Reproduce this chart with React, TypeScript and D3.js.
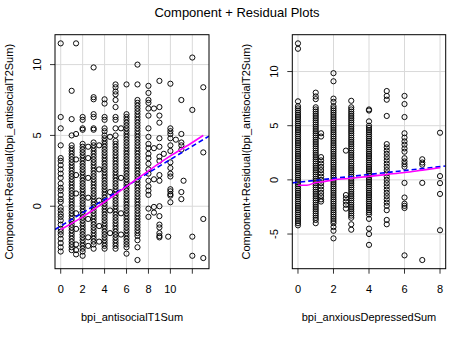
import React from "react";
import * as d3 from "d3";

// ---------- data ----------
const antiX = [0, 1, 1.4, 2, 2.5, 3, 3.5, 4, 4.5, 5, 5.5, 6, 7, 8, 8.5, 9, 9.4, 9.8, 10, 10.5, 11, 11.2, 12, 13];
const antiResid: number[][] = [
  [11.5, 6.3, 5.5, 4.3, 3.4, 3.2, 2.9, 2.6, 2.3, 2.0, 1.6, 1.3, 1.1, 0.8, 0.5, 0.3, -0.1, -0.3, -0.55, -0.75, -1.0, -1.3, -1.6, -1.8, -2.0, -2.3, -2.6, -2.9, -3.2],
  [8.15, 6.15, 5.0, 4.3, 4.1, 3.9, 3.7, 3.5, 3.3, 3.1, 2.9, 2.7, 2.5, 2.3, 2.1, 1.9, 1.7, 1.5, 1.3, 1.1, 0.9, 0.7, 0.5, 0.3, 0.1, -0.1, -0.3, -0.5, -0.7, -0.9, -1.1, -1.3, -1.5, -1.7, -1.9, -2.1, -2.3, -2.5, -2.7, -2.9, -3.1],
  [11.5, 5.1, 3.3, 2.2, 0.9, -0.5, -1.6, -2.7, -3.1, -3.4],
  [6.3, 6.1, 5.5, 5.4, 4.4, 4.2, 4.0, 3.8, 3.6, 3.4, 3.2, 3.0, 2.8, 2.6, 2.4, 2.2, 2.0, 1.8, 1.6, 1.4, 1.2, 1.0, 0.8, 0.6, 0.4, 0.2, 0.0, -0.2, -0.4, -0.6, -0.8, -1.0, -1.2, -1.4, -1.6, -1.8, -2.0, -2.2, -2.4, -2.6, -2.8, -3.0, -3.2, -3.5],
  [4.2, 3.4, 2.0, 0.6, -0.9, -2.2, -2.8],
  [9.8, 7.7, 7.55, 6.5, 6.3, 5.5, 5.4, 4.5, 4.3, 4.1, 3.9, 3.7, 3.5, 3.3, 3.1, 2.9, 2.7, 2.5, 2.3, 2.1, 1.9, 1.7, 1.5, 1.3, 1.1, 0.9, 0.7, 0.5, 0.3, 0.1, -0.1, -0.3, -0.5, -0.7, -0.9, -1.1, -1.3, -1.5, -1.7, -1.9, -2.1, -2.3, -2.5, -2.7, -3.0],
  [4.3, 2.6, 0.4, -1.4, -2.5],
  [7.55, 7.25, 6.3, 6.1, 5.5, 5.3, 5.0, 4.8, 4.6, 4.4, 4.2, 4.0, 3.8, 3.6, 3.4, 3.2, 3.0, 2.8, 2.6, 2.4, 2.2, 2.0, 1.8, 1.6, 1.4, 1.2, 1.0, 0.8, 0.6, 0.4, 0.2, 0.0, -0.2, -0.4, -0.6, -0.8, -1.0, -1.2, -1.4, -1.6, -1.8, -2.0, -2.2, -2.4, -2.6, -2.8, -3.0],
  [4.9, 1.0, -0.3, -1.9],
  [8.6, 8.4, 8.1, 7.9, 7.5, 7.0, 6.3, 6.1, 5.5, 5.0, 4.6, 4.4, 4.2, 4.0, 3.8, 3.6, 3.4, 3.2, 3.0, 2.8, 2.6, 2.4, 2.2, 2.0, 1.8, 1.6, 1.4, 1.2, 1.0, 0.8, 0.6, 0.4, 0.2, 0.0, -0.2, -0.4, -0.6, -0.8, -1.0, -1.2, -1.4, -1.6, -1.8, -2.0, -2.2, -2.4, -2.6, -2.8, -3.0],
  [5.5, 2.0, -0.5, -2.0],
  [8.6, 6.5, 6.3, 6.1, 5.9, 5.7, 5.5, 5.3, 5.1, 4.9, 4.7, 4.5, 4.3, 4.1, 3.9, 3.7, 3.5, 3.3, 3.1, 2.9, 2.7, 2.5, 2.3, 2.1, 1.9, 1.7, 1.5, 1.3, 1.1, 0.9, 0.7, 0.5, 0.3, 0.1, -0.1, -0.3, -0.5, -0.7, -0.9, -1.1, -1.3, -1.5, -1.7, -1.9, -2.1, -2.3, -2.5, -2.7, -2.9, -3.35],
  [10.0, 8.6, 7.5, 7.3, 7.1, 6.9, 6.7, 6.5, 6.3, 6.1, 5.9, 5.7, 5.5, 5.3, 5.1, 4.9, 4.7, 4.5, 4.3, 4.1, 3.9, 3.7, 3.5, 3.3, 3.1, 2.9, 2.7, 2.5, 2.3, 2.1, 1.9, 1.7, 1.5, 1.3, 1.1, 0.9, 0.7, 0.5, 0.3, 0.1, -0.1, -0.3, -0.5, -0.7, -0.9, -1.1, -1.3, -1.5, -1.7, -1.9, -2.1, -2.4, -2.9, -3.8],
  [8.5, 8.0, 7.5, 7.3, 6.9, 6.4, 5.5, 4.9, 4.4, 4.1, 3.7, 3.4, 3.0, 2.6, 2.3, 1.8, 1.4, 1.1, 0.8, -0.17, -0.75],
  [6.9, 4.1, 1.9, -0.05, -0.45],
  [8.85, 7.0, 6.4, 5.9, 4.8, 4.2, 3.5, 3.2, 2.2, 1.8, 0.0, -0.7, -1.3, -1.5, -1.9, -2.1, -2.2],
  [3.7],
  [-2.15],
  [8.65, 5.5, 5.3, 5.1, 4.8, 4.3, 3.9, 3.1, 2.7, 2.3, 2.1, 1.2, 1.05, 0.85, 0.75, 0.28],
  [4.7],
  [7.5, 5.1, 4.5, 4.3, 4.0, 1.0, 0.5],
  [1.8],
  [10.5, 6.8, -2.15, -3.5],
  [8.4, 3.8, -0.9, -3.66],
];
const antiFit = { intercept: -1.4, slope: 0.47 };
const antiSmoothX = [0, 2, 4, 6, 8, 10, 12, 13];
const antiSmoothY = [-1.65, -0.75, 0.3, 1.4, 2.5, 3.55, 4.5, 5.0];
const antiXTicks = [0, 2, 4, 6, 8, 10, 12];
const antiXLabels = ["0", "2", "4", "6", "8", "10", ""];
const antiYTicks = [0, 5, 10];

const anxX = [0, 1, 1.3, 2, 2.7, 3, 4, 5, 6, 7, 8];
const anxResid: number[][] = [
  [12.6, 12.1, 7.25, 6.8, 6.6, 6.4, 6.2, 6.0, 5.8, 5.6, 5.4, 5.2, 5.0, 4.8, 4.6, 4.4, 4.2, 4.0, 3.8, 3.6, 3.4, 3.2, 3.0, 2.8, 2.6, 2.4, 2.2, 2.0, 1.8, 1.6, 1.4, 1.2, 1.0, 0.8, 0.6, 0.4, 0.2, 0.0, -0.2, -0.4, -0.6, -0.8, -1.0, -1.2, -1.4, -1.6, -1.8, -2.0, -2.2, -2.4, -2.6, -2.8, -3.0, -3.2, -3.4, -3.6, -3.8, -4.0, -4.2],
  [8.05, 7.7, 7.45, 6.7, 6.5, 6.3, 6.1, 5.9, 5.7, 5.5, 5.3, 5.1, 4.9, 4.7, 4.5, 4.3, 4.1, 3.9, 3.7, 3.5, 3.3, 3.1, 2.9, 2.7, 2.5, 2.3, 2.1, 1.9, 1.7, 1.5, 1.3, 1.1, 0.9, 0.7, 0.5, 0.3, 0.1, -0.1, -0.3, -0.5, -0.7, -0.9, -1.1, -1.3, -1.5, -1.7, -1.9, -2.1, -2.3, -2.5, -2.7, -2.9, -3.1, -3.3, -3.5, -3.7, -4.0],
  [4.3, 4.0, 2.1, 1.8, 1.5, 1.2, 0.9, 0.6, 0.3, 0.0, -0.3, -0.6, -0.9, -1.2, -1.5, -1.8, -2.0],
  [9.85, 9.1, 7.5, 7.2, 6.8, 6.6, 6.4, 6.2, 6.0, 5.8, 5.6, 5.4, 5.2, 5.0, 4.8, 4.6, 4.4, 4.2, 4.0, 3.8, 3.6, 3.4, 3.2, 3.0, 2.8, 2.6, 2.4, 2.2, 2.0, 1.8, 1.6, 1.4, 1.2, 1.0, 0.8, 0.6, 0.4, 0.2, 0.0, -0.2, -0.4, -0.6, -0.8, -1.0, -1.2, -1.4, -1.6, -1.8, -2.0, -2.2, -2.4, -2.6, -2.8, -3.0, -3.2, -3.4, -3.6, -3.8, -4.0, -4.35, -4.7, -5.4],
  [2.7, -1.4, -1.7, -2.0, -2.3, -2.65],
  [7.3, 6.7, 6.5, 6.3, 6.1, 5.9, 5.7, 5.5, 5.3, 5.1, 4.9, 4.7, 4.5, 4.3, 4.1, 3.9, 3.7, 3.5, 3.3, 3.1, 2.9, 2.7, 2.5, 2.3, 2.1, 1.9, 1.7, 1.5, 1.3, 1.1, 0.9, 0.7, 0.5, 0.3, 0.1, -0.1, -0.3, -0.5, -0.7, -0.9, -1.1, -1.3, -1.5, -1.7, -1.9, -2.1, -2.3, -2.5, -2.7, -2.9, -3.1, -3.3, -3.5, -4.1, -4.6],
  [6.5, 6.4, 5.4, 5.0, 4.8, 4.6, 4.4, 4.2, 4.0, 3.8, 3.6, 3.4, 3.2, 3.0, 2.8, 2.6, 2.4, 2.2, 2.0, 1.8, 1.6, 1.4, 1.2, 1.0, 0.8, 0.6, 0.4, 0.2, 0.0, -0.2, -0.4, -0.6, -0.8, -1.0, -1.2, -1.4, -1.6, -1.8, -2.0, -2.2, -2.4, -2.6, -2.8, -3.0, -3.2, -3.6, -4.5, -5.0, -6.0],
  [8.2, 7.75, 7.4, 5.9, 3.3, 3.0, 2.7, 2.4, 2.1, 1.8, 1.5, 1.2, 0.9, 0.6, 0.3, 0.0, -0.3, -0.6, -0.9, -1.2, -1.5, -1.8, -2.1, -2.4, -2.8, -3.7, -4.1],
  [7.75, 7.0, 5.8, 4.3, 3.9, 3.55, 3.25, 2.9, 2.6, 2.0, 1.7, 1.45, 1.2, -0.28, -1.63, -2.2, -2.4, -2.6, -6.97],
  [1.9, 1.6, 1.4, -0.28, -7.4],
  [4.35, 0.35, -0.3, -1.3, -4.65],
];
const anxFit = { intercept: -0.22, slope: 0.18 };
const anxSmoothX = [0, 0.5, 1, 1.3, 2, 3, 4, 5, 6, 7, 8];
const anxSmoothY = [-0.5, -0.5, -0.25, -0.2, 0.0, 0.15, 0.32, 0.5, 0.68, 0.9, 1.12];
const anxXTicks = [0, 2, 4, 6, 8];
const anxXLabels = ["0", "2", "4", "6", "8"];
const anxYTicks = [-5, 0, 5, 10];

const TITLE = "Component + Residual Plots";
const Y_TITLE = "Component+Residual(bpi_antisocialT2Sum)";

const FONT = "'Liberation Sans', Arial, Helvetica, sans-serif";

type PanelProps = {
  id: string;
  left: number;
  right: number;
  top: number;
  bottom: number;
  xs: number[];
  resid: number[][];
  fit: { intercept: number; slope: number };
  smoothX: number[];
  smoothY: number[];
  xTicks: number[];
  xLabels: string[];
  yTicks: number[];
  xTitle: string;
  yTitleX: number;
};

function pad(ext: [number, number]): [number, number] {
  const r = ext[1] - ext[0];
  return [ext[0] - 0.04 * r, ext[1] + 0.04 * r];
}

function Panel(p: PanelProps) {
  const pts: [number, number][] = [];
  p.xs.forEach((x, i) => p.resid[i].forEach((y) => pts.push([x, y])));
  const xDom = pad(d3.extent(pts, (d) => d[0]) as [number, number]);
  const yDom = pad(d3.extent(pts, (d) => d[1]) as [number, number]);
  const xs = d3.scaleLinear().domain(xDom).range([p.left, p.right]);
  const ys = d3.scaleLinear().domain(yDom).range([p.bottom, p.top]);
  const fitLine = d3.line<number>()
    .x((x) => xs(x))
    .y((x) => ys(p.fit.intercept + p.fit.slope * x))(xDom);
  const smooth = d3.line<number>()
    .x((x) => xs(x))
    .y((_, i) => ys(p.smoothY[i]))
    .curve(d3.curveMonotoneX)(p.smoothX);
  const clipId = "clip-" + p.id;
  const midX = (p.left + p.right) / 2;
  const midY = (p.top + p.bottom) / 2;
  return (
    <g>
      <defs>
        <clipPath id={clipId}>
          <rect x={p.left} y={p.top} width={p.right - p.left} height={p.bottom - p.top} />
        </clipPath>
      </defs>
      <g clipPath={`url(#${clipId})`}>
        {p.xTicks.map((t) => (
          <line key={"gx" + t} x1={xs(t)} x2={xs(t)} y1={p.top} y2={p.bottom} stroke="#d9d9d9" strokeWidth={1} />
        ))}
        {p.yTicks.map((t) => (
          <line key={"gy" + t} x1={p.left} x2={p.right} y1={ys(t)} y2={ys(t)} stroke="#d9d9d9" strokeWidth={1} />
        ))}
        {pts.map((d, i) => (
          <circle key={i} cx={xs(d[0])} cy={ys(d[1])} r={2.6} fill="none" stroke="#000" strokeWidth={0.95} />
        ))}
        <path d={fitLine || ""} fill="none" stroke="#0000ff" strokeWidth={1.6} strokeDasharray="5,3" />
        <path d={smooth || ""} fill="none" stroke="#ff00ff" strokeWidth={1.6} />
      </g>
      <rect x={p.left} y={p.top} width={p.right - p.left} height={p.bottom - p.top} fill="none" stroke="#000" strokeWidth={1} />
      {p.xTicks.map((t, i) => (
        <g key={"tx" + t}>
          <line x1={xs(t)} x2={xs(t)} y1={p.bottom} y2={p.bottom + 5} stroke="#000" strokeWidth={0.8} />
          <text x={xs(t)} y={p.bottom + 24} textAnchor="middle" fontSize={11} fontFamily={FONT}>{p.xLabels[i]}</text>
        </g>
      ))}
      {p.yTicks.map((t) => (
        <g key={"ty" + t}>
          <line x1={p.left - 5} x2={p.left} y1={ys(t)} y2={ys(t)} stroke="#000" strokeWidth={0.8} />
          <text transform={`translate(${p.left - 14},${ys(t)}) rotate(-90)`} textAnchor="middle" fontSize={11} fontFamily={FONT}>{t}</text>
        </g>
      ))}
      <text x={midX} y={p.bottom + 52} textAnchor="middle" fontSize={11} fontFamily={FONT}>{p.xTitle}</text>
      <text transform={`translate(${p.yTitleX},${midY}) rotate(-90)`} textAnchor="middle" fontSize={11} fontFamily={FONT}>{Y_TITLE}</text>
    </g>
  );
}

export default function App() {
  return (
    <svg width={474} height={338} style={{ position: "absolute", left: 0, top: 0, background: "#fff" }}>
      <rect x={0} y={0} width={474} height={338} fill="#fff" />
      <text x={237} y={17} textAnchor="middle" fontSize={13} fontFamily={FONT}>{TITLE}</text>
      <Panel id="a" left={55} right={209} top={34.7} bottom={268.7}
        xs={antiX} resid={antiResid} fit={antiFit} smoothX={antiSmoothX} smoothY={antiSmoothY}
        xTicks={antiXTicks} xLabels={antiXLabels} yTicks={antiYTicks}
        xTitle="bpi_antisocialT1Sum" yTitleX={13} />
      <Panel id="b" left={292.3} right={445.7} top={34.7} bottom={268.7}
        xs={anxX} resid={anxResid} fit={anxFit} smoothX={anxSmoothX} smoothY={anxSmoothY}
        xTicks={anxXTicks} xLabels={anxXLabels} yTicks={anxYTicks}
        xTitle="bpi_anxiousDepressedSum" yTitleX={250} />
    </svg>
  );
}
